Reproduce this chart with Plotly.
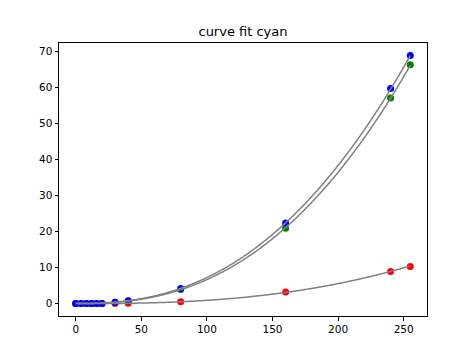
import numpy as np
import plotly.graph_objects as go

x_vals = [0, 4, 8, 12, 16, 20, 30, 40, 80, 160, 240, 255]
blue_vals = [0.0, 0.0, 0.0, 0.01, 0.03, 0.05, 0.4, 0.8, 4.2, 22.4, 59.7, 68.9]
green_vals = [0.0, 0.0, 0.0, 0.01, 0.02, 0.04, 0.35, 0.7, 3.9, 20.9, 57.1, 66.3]
red_vals = [0.0, 0.0, 0.0, 0.0, 0.0, 0.01, 0.04, 0.09, 0.5, 3.2, 8.9, 10.3]
title_text = "curve fit cyan"
x_ticks = [0, 50, 100, 150, 200, 250]
y_ticks = [0, 10, 20, 30, 40, 50, 60, 70]


def power_fit(xs, ys):
    xs = np.asarray(xs, float)
    ys = np.asarray(ys, float)
    m = ys >= 0.3
    b, loga = np.polyfit(np.log(xs[m]), np.log(ys[m]), 1)
    xx = np.linspace(0, max(xs), 400)
    return xx, np.exp(loga) * xx ** b


fig = go.Figure()
font = "DejaVu Sans, sans-serif"

for ys, col in [(red_vals, "#ff0000"), (green_vals, "#008000"), (blue_vals, "#0000ff")]:
    fig.add_trace(go.Scatter(x=x_vals, y=ys, mode="markers",
                             marker=dict(color=col, size=7, line=dict(width=0)),
                             showlegend=False))

for ys in [blue_vals, green_vals, red_vals]:
    xx, yy = power_fit(x_vals, ys)
    fig.add_trace(go.Scatter(x=xx, y=yy, mode="lines",
                             line=dict(color="#808080", width=1.5, shape="spline"),
                             showlegend=False))

xmax = max(x_vals)
ymax = max(max(blue_vals), max(green_vals), max(red_vals))
fig.update_layout(
    width=474, height=355,
    margin=dict(l=51, r=55, t=35, b=47),
    paper_bgcolor="white", plot_bgcolor="white",
    font=dict(family=font, size=10.5, color="black"),
    title=dict(text=title_text, x=0.5, xref="paper", y=1 - 23.5 / 355, yref="container",
               xanchor="center", yanchor="middle", font=dict(size=13, color="black", family=font)),
    xaxis=dict(range=[-0.05 * xmax, 1.05 * xmax], tickvals=x_ticks, showgrid=False, zeroline=False,
               showline=True, linecolor="black", linewidth=1, mirror=True,
               ticks="outside", ticklen=3.5, tickcolor="black", tickwidth=1,
               tickfont=dict(size=10.5)),
    yaxis=dict(range=[-0.05 * ymax, 1.05 * ymax], tickvals=y_ticks, showgrid=False, zeroline=False,
               showline=True, linecolor="black", linewidth=1, mirror=True,
               ticks="outside", ticklen=3.5, tickcolor="black", tickwidth=1,
               tickfont=dict(size=10.5)),
)

fig.write_html("out.html")
